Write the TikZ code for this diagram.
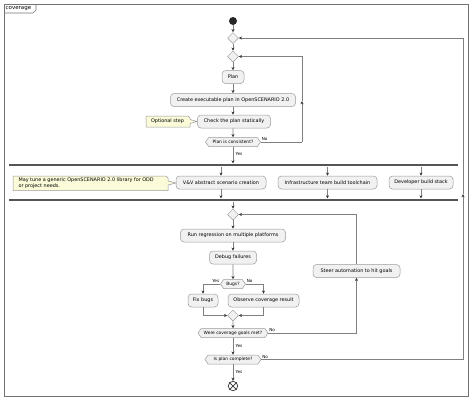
\documentclass[tikz,border=0pt]{standalone}
\usepackage{fontspec}
\setmainfont{DejaVu Sans}
\usetikzlibrary{shapes.geometric,shapes.symbols,arrows.meta,calc}
\definecolor{actfill}{HTML}{F1F1F1}
\definecolor{notefill}{HTML}{FBFBD9}
\definecolor{linegray}{HTML}{808080}
\definecolor{bordgray}{HTML}{9A9A9A}
\definecolor{barcol}{HTML}{555555}
\begin{document}
\begin{tikzpicture}[x=1pt,y=-1pt,
  font=\fontsize{4.9}{5.9}\selectfont,
  act/.style={draw=bordgray, fill=actfill, rounded corners=3.5pt, minimum height=13pt, inner sep=0pt, line width=0.5pt},
  hex/.style={draw=bordgray, fill=actfill, signal, signal to=east and west, signal pointer angle=110, minimum height=9pt, inner sep=0.5pt, line width=0.5pt, font=\fontsize{4.4}{5}\selectfont},
  dia/.style={draw=bordgray, fill=actfill, diamond, minimum size=11pt, inner sep=0pt, line width=0.5pt},
  startnode/.style={circle, fill=black!85, minimum size=8pt, inner sep=0pt},
  endnode/.style={circle, draw=black!80, fill=white, minimum size=9.5pt, inner sep=0pt, line width=0.7pt},
  barnode/.style={fill=barcol, minimum height=2.6pt, inner sep=0pt},
  notebox/.style={draw=bordgray, fill=notefill, line width=0.5pt},
  conn/.style={draw=linegray, line width=0.55pt},
  arr/.style={conn, -{Stealth[length=3.2pt,width=3pt,inset=1pt,color=black!80]}},
  lbl/.style={font=\fontsize{4.2}{5}\selectfont, inner sep=0.8pt},
]
\useasboundingbox (0,0) rectangle (474,400);
% frame
\draw[black!55, line width=1pt] (4,4.5) rectangle (468,396);
\draw[black!55, line width=0.7pt] (4,13) -- (33,13) -- (36,10) -- (36,4.5);
\node[anchor=west, inner sep=0pt, font=\fontsize{5.5}{6}\selectfont] (title) at (5.5,8.8) {coverage};

% main column
\node[startnode] (s) at (233,21) {};
\node[dia] (d1) at (233,38) {};
\node[dia] (d2) at (233,56.5) {};
\node[act, minimum width=22pt] (plan) at (233,77) {Plan};
\node[act, minimum width=125pt] (create) at (233,100) {Create executable plan in OpenSCENARIO 2.0};
\node[act, minimum width=73pt] (check) at (234,121.5) {Check the plan statically};
\node[hex, minimum width=55pt] (cons) at (233,142) {Plan is consistent?};

% note 1
\draw[notebox] (146,116) -- (188,116) -- (190,118) -- (190,119.5) -- (197,121.5) -- (190,123.5) -- (190,127) -- (146,127) -- cycle;
\node (n1) at (167.5,121.5) {Optional step};

% fork / join bars
\node[barnode, minimum width=449pt] (bar1) at (233.5,165) {};
\node[barnode, minimum width=449pt] (bar2) at (233.5,200) {};

\node[act, minimum width=90pt] (vv) at (221,182.5) {V\&V abstract scenario creation};
\node[act, minimum width=99pt] (infra) at (327.5,182.5) {Infrastructure team build toolchain};
\node[act, minimum width=64pt] (dev) at (421,182.5) {Developer build stack};

% note 2
\draw[notebox] (13,176) -- (166,176) -- (168,178) -- (168,181) -- (176,183) -- (168,185) -- (168,190.5) -- (13,190.5) -- cycle;
\node[align=left, anchor=west] (n2) at (15,183.2) {May tune a generic OpenSCENARIO 2.0 library for ODD\\or project needs.};

% second part
\node[dia] (d3) at (233,214.5) {};
\node[act, minimum width=105pt] (run) at (233,235.5) {Run regression on multiple platforms};
\node[act, minimum width=47pt] (debug) at (233,257.5) {Debug failures};
\node[hex, minimum width=25pt] (bugs) at (233,284) {Bugs?};
\node[act, minimum width=30pt] (fix) at (203,300.5) {Fix bugs};
\node[act, minimum width=71pt] (obs) at (263.5,300.5) {Observe coverage result};
\node[dia] (d4) at (233,315.5) {};
\node[hex, minimum width=70pt] (goals) at (233,333) {Were coverage goals met?};
\node[act, minimum width=87pt] (steer) at (356.5,271) {Steer automation to hit goals};
\node[hex, minimum width=56pt] (complete) at (233,359.5) {Is plan complete?};
\node[endnode] (e) at (233,386) {};
\draw[black!80, line width=0.7pt] (e.north west) -- (e.south east) (e.north east) -- (e.south west);

% coordinates for loops
\coordinate (c1a) at (302,142);
\coordinate (c1m) at (302,101);
\coordinate (c1b) at (302,56.5);
\coordinate (c2a) at (463,359.5);
\coordinate (c2m) at (463,194);
\coordinate (c2b) at (463,38);

% connectors
\draw[arr] (s) -- (d1);
\draw[arr] (d1) -- (d2);
\draw[arr] (d2) -- (plan);
\draw[arr] (plan) -- (create);
\draw[arr] (create) -- (create.south |- check.north);
\draw[arr] (create.south |- check.south) -- (cons);
\draw[conn] (cons.east) -- (c1a);
\draw[arr] (c1a) -- (c1m);
\draw[arr] (c1m) -- (c1b) -- (d2.east);
\node[lbl, anchor=south west] at (cons.east) {No};
\draw[arr] (cons.south) -- (cons.south |- bar1.north);
\node[lbl, anchor=west] at (234.5,154) {Yes};

\draw[arr] (bar1.south -| vv.north) -- (vv.north);
\draw[arr] (bar1.south -| infra.north) -- (infra.north);
\draw[arr] (bar1.south -| dev.north) -- (dev.north);
\draw[arr] (vv.south) -- (vv.south |- bar2.north);
\draw[arr] (infra.south) -- (infra.south |- bar2.north);
\draw[arr] (dev.south) -- (dev.south |- bar2.north);

\draw[arr] (bar2.south -| d3.north) -- (d3.north);
\draw[arr] (d3) -- (run);
\draw[arr] (run) -- (debug);
\draw[arr] (debug) -- (bugs);
\draw[arr] (bugs.west) -| (fix.north);
\draw[arr] (bugs.east) -| (obs.north);
\node[lbl, anchor=south east] at (bugs.west) {Yes};
\node[lbl, anchor=south west] at (bugs.east) {No};
\draw[arr] (fix.south) |- (d4.west);
\draw[arr] (obs.south) |- (d4.east);
\draw[arr] (d4) -- (goals);
\draw[arr] (goals.east) -| (steer.south);
\node[lbl, anchor=south west] at (goals.east) {No};
\draw[arr] (steer.north) |- (d3.east);
\draw[arr] (goals.south) -- (complete.north);
\node[lbl, anchor=west] at (234.5,345.5) {Yes};
\draw[conn] (complete.east) -- (c2a);
\draw[arr] (c2a) -- (c2m);
\draw[arr] (c2m) -- (c2b) -- (d1.east);
\node[lbl, anchor=south west] at (complete.east) {No};
\draw[arr] (complete.south) -- (e.north);
\node[lbl, anchor=west] at (234.5,372) {Yes};
\end{tikzpicture}
\end{document}
